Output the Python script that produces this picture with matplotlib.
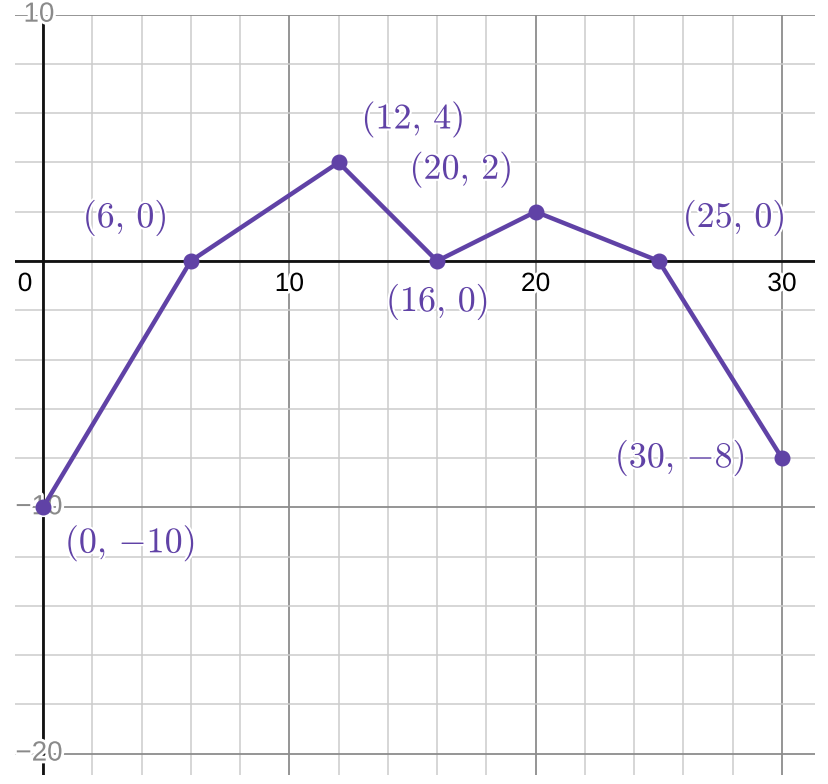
import matplotlib
matplotlib.use("Agg")
import matplotlib.pyplot as plt
import matplotlib.patheffects as pe

# Data
xs = [0, 6, 12, 16, 20, 25, 30]
ys = [-10, 0, 4, 0, 2, 0, -8]
point_labels = [r"$(0,\,{-}10)$", r"$(6,\,0)$", r"$(12,\,4)$", r"$(16,\,0)$",
                r"$(20,\,2)$", r"$(25,\,0)$", r"$(30,\,{-}8)$"]
label_offsets = [(87, -36), (-66, 43), (74, 43), (0, -41), (-75, 42), (75, 43), (-102, 0)]
x_ticks = [0, 10, 20, 30]
y_ticks = [10, -10, -20]

plt.rcParams['mathtext.fontset'] = 'cm'
W, H = 829, 784
fig = plt.figure(figsize=(W / 100, H / 100), dpi=100)
L, R, T, B = 15, 815, 15, 775
ax = fig.add_axes([L / W, 1 - B / H, (R - L) / W, (B - T) / H])

s = 24.63
x0p, y0p = 43, 261
ax.set_xlim((L - x0p) / s, (R - x0p) / s)
ax.set_ylim(-(B - y0p) / s, (y0p - T) / s)
ax.set_axis_off()

purple = '#6042a6'
# grid
for gx in range(0, 32, 2):
    major = gx % 10 == 0
    ax.axvline(gx, color='#8c8c8c' if major else '#cccccc', lw=1.3 if major else 1.1, zorder=0)
for gy in range(-20, 11, 2):
    major = gy % 10 == 0
    ax.axhline(gy, color='#8c8c8c' if major else '#cccccc', lw=1.3 if major else 1.1, zorder=0)
ax.axhline(0, color='#111111', lw=2, zorder=1)
ax.axvline(0, color='#111111', lw=2, zorder=1)

halo = [pe.withStroke(linewidth=4, foreground='white')]
# x tick labels
for t in x_ticks:
    dx = -18 if t == 0 else 0
    ax.annotate(str(t), (t, 0), xytext=(dx, -11), textcoords='offset pixels',
                ha='center', va='top', fontsize=19, family='Liberation Sans',
                color='black', path_effects=halo, zorder=2, annotation_clip=False)
# y tick labels
for t in y_ticks:
    lab = str(t).replace('-', '\u2212') if t < 0 else str(t)
    ax.annotate(lab, (0, t), xytext=(-4, 0), textcoords='offset pixels',
                ha='center', va='center', fontsize=20, family='Liberation Sans',
                color='#8a8a8a', path_effects=halo, zorder=2, annotation_clip=False)

ax.plot(xs, ys, color=purple, lw=3.2, solid_capstyle='round', zorder=3)
ax.plot(xs, ys, 'o', color=purple, ms=10.5, zorder=4)

for x, y, lab, off in zip(xs, ys, point_labels, label_offsets):
    ax.annotate(lab, (x, y), xytext=off, textcoords='offset pixels',
                ha='center', va='center', fontsize=26, color=purple,
                path_effects=[pe.withStroke(linewidth=3, foreground='white')], zorder=5,
                annotation_clip=False)

fig.savefig("out.png", dpi=100)
